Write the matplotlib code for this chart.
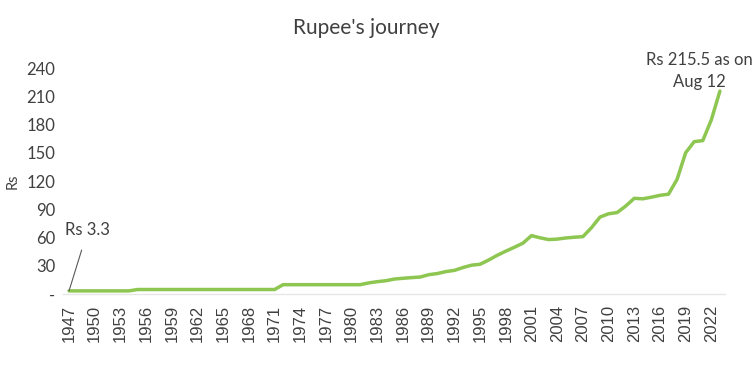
import matplotlib.pyplot as plt
from matplotlib.ticker import FixedLocator, FixedFormatter

# PKR per USD, year-end / approximate
years = list(range(1947, 2024))
rates = [3.31, 3.31, 3.31, 3.31, 3.31, 3.31, 3.31, 3.31,   # 1947-1954
         4.76, 4.76, 4.76, 4.76, 4.76, 4.76, 4.76, 4.76,   # 1955-1962
         4.76, 4.76, 4.76, 4.76, 4.76, 4.76, 4.76, 4.76,   # 1963-1970
         4.76, 9.9, 9.9, 9.9, 9.9, 9.9, 9.9, 9.9,           # 1971-1978
         9.9, 9.9, 9.9, 11.8, 13.1, 14.1, 15.9, 16.7,      # 1979-1986
         17.4, 18.0, 20.5, 21.7, 23.8, 25.1, 28.1, 30.6,   # 1987-1994
         31.6, 36.1, 41.1, 45.5, 49.6, 54.0, 62.0, 59.7,   # 1995-2002
         57.8, 58.3, 59.5, 60.3, 60.9, 70.4, 81.7, 85.2,   # 2003-2010
         86.5, 93.4, 101.6, 101.1, 102.8, 104.8, 106.0, 121.8,  # 2011-2018
         150.0, 161.8, 162.9, 185.0, 215.5]                # 2019-2023

xtick_years = list(range(1947, 2024, 3))
ytick_vals = [0, 30, 60, 90, 120, 150, 180, 210, 240]
ytick_labels = ['-', '30', '60', '90', '120', '150', '180', '210', '240']

plt.rcParams['font.family'] = ['Lato', 'DejaVu Sans']

fig = plt.figure(figsize=(7.54, 3.92), dpi=100)
ax = fig.add_axes([0.0836, 0.25, 0.878, 0.5765])

ax.plot(years, rates, color='#8DC651', linewidth=2.5, solid_capstyle='round',
        solid_joinstyle='round', clip_on=False)

ax.set_xlim(1946.3, 2023.6)
ax.set_ylim(0, 240)

ax.xaxis.set_major_locator(FixedLocator(xtick_years))
ax.set_xticklabels([str(y) for y in xtick_years], rotation=90,
                   fontfamily='Liberation Sans', fontsize=12, color='#404040')
ax.yaxis.set_major_locator(FixedLocator(ytick_vals))
ax.yaxis.set_major_formatter(FixedFormatter(ytick_labels))
ax.tick_params(axis='y', length=0, pad=5.5, labelsize=12, labelcolor='#404040')
ax.tick_params(axis='x', length=0, pad=8)

for s in ['top', 'right', 'left']:
    ax.spines[s].set_visible(False)
ax.spines['bottom'].set_color('#E6E6E6')
ax.spines['bottom'].set_linewidth(1.0)

ax.set_ylabel('Rs', fontsize=10.5, color='#404040', labelpad=2)
ax.yaxis.set_label_coords(-0.066, 0.5)

fig.text(0.486, 0.928, "Rupee's journey", ha='center', va='center',
         fontsize=15, color='#404040')

# annotations
ax.annotate('Rs 3.3', xy=(years[0], rates[0]), xytext=(1949.2, 68),
            ha='center', va='center', fontsize=12, color='#404040',
            arrowprops=dict(arrowstyle='-', color='#595959', lw=0.8,
                            shrinkA=7, shrinkB=0))
ax.text(2020.6, 217, 'Rs 215.5 as on\nAug 12', ha='center', va='bottom',
        fontsize=12, color='#404040', linespacing=1.4)

plt.savefig('out.png', dpi=100)
